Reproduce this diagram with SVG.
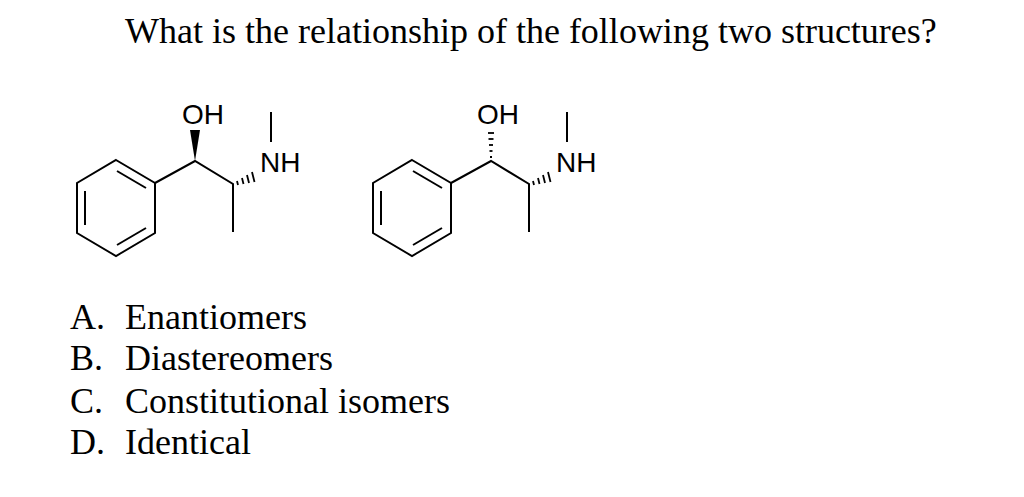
<svg xmlns="http://www.w3.org/2000/svg" width="1024" height="497" viewBox="0 0 1024 497">
<style>
.t{font-family:"Liberation Serif",serif;font-size:36px;fill:#000}
.a{font-family:"Liberation Sans",sans-serif;font-size:28px;fill:#000}
.b{stroke:#000;stroke-width:2;fill:none}
</style>
<rect width="1024" height="497" fill="#fff"/>
<text class="t" x="125" y="43">What is the relationship of the following two structures?</text>
<defs>
<g id="core">
<polygon class="b" points="116,160 155,183 155,233 116,256 77,233 77,183"/>
<line class="b" x1="85" y1="191" x2="85" y2="225"/>
<line class="b" x1="117" y1="171" x2="146" y2="188"/>
<line class="b" x1="117" y1="245" x2="146" y2="228"/>
<polyline class="b" points="155,183 195,161 233,184 233,232"/>
<line class="b" x1="271" y1="112" x2="271" y2="142"/>
<g stroke="#000" stroke-width="1.8">
<line x1="237" y1="181" x2="238" y2="185"/>
<line x1="242" y1="178" x2="243.5" y2="184"/>
<line x1="247" y1="175" x2="249" y2="183"/>
<line x1="252" y1="172" x2="254.5" y2="182"/>
</g>
<text class="a" x="260" y="172">NH</text>
</g>
</defs>
<g id="molecule1">
<use href="#core"/>
<polygon points="195,161 190,130 200,130" fill="#000"/>
<text class="a" x="182" y="124">OH</text>
</g>
<g id="molecule2">
<use href="#core" x="296"/>
<g stroke="#000" stroke-width="1.8">
<line x1="490" y1="157" x2="492" y2="157"/>
<line x1="489.5" y1="151" x2="492.5" y2="151"/>
<line x1="489" y1="145" x2="493" y2="145"/>
<line x1="488.5" y1="139" x2="493.5" y2="139"/>
<line x1="488" y1="133" x2="494" y2="133"/>
</g>
<text class="a" x="477" y="124">OH</text>
</g>
<g id="options">
<text class="t" x="70" y="329">A.</text><text class="t" x="125" y="329">Enantiomers</text>
<text class="t" x="70" y="370">B.</text><text class="t" x="125" y="370">Diastereomers</text>
<text class="t" x="70" y="413">C.</text><text class="t" x="125" y="413">Constitutional isomers</text>
<text class="t" x="70" y="454">D.</text><text class="t" x="125" y="454">Identical</text>
</g>
</svg>
